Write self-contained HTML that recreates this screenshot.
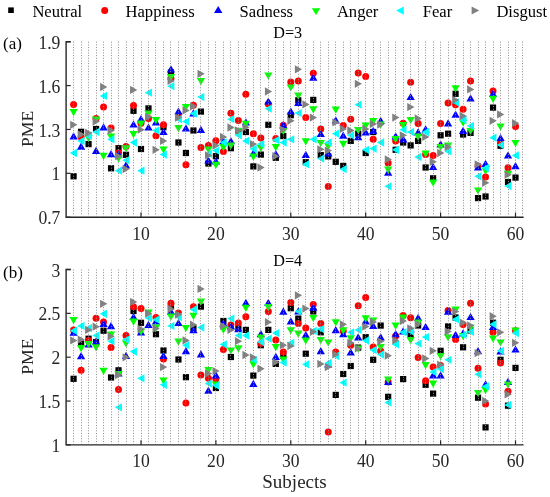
<!DOCTYPE html>
<html><head><meta charset="utf-8"><style>html,body{margin:0;padding:0;background:#fff;}svg{display:block;}</style></head>
<body><svg width="550" height="497" viewBox="0 0 550 497">
<rect width="550" height="497" fill="#fff"/>
<rect x="8.2" y="7.4" width="5.6" height="5.6" fill="#000"/>
<text x="32.4" y="16.7" font-size="16.6" font-family="Liberation Serif, Times New Roman, serif" fill="#000">Neutral</text>
<circle cx="104.7" cy="10.4" r="3.5" fill="#f00"/>
<text x="125.5" y="16.7" font-size="16.6" font-family="Liberation Serif, Times New Roman, serif" fill="#000">Happiness</text>
<polygon points="218.2,5.9 222.39999999999998,13.1 214.0,13.1" fill="#00f"/>
<text x="239.6" y="16.7" font-size="16.6" font-family="Liberation Serif, Times New Roman, serif" fill="#000">Sadness</text>
<polygon points="316,14.9 320.2,8.2 311.8,8.2" fill="#0f0"/>
<text x="336.9" y="16.7" font-size="16.6" font-family="Liberation Serif, Times New Roman, serif" fill="#000">Anger</text>
<polygon points="396.2,10.6 403.8,6.4 403.8,14.8" fill="#0ff"/>
<text x="422.7" y="16.7" font-size="16.6" font-family="Liberation Serif, Times New Roman, serif" fill="#000">Fear</text>
<polygon points="479.2,10.5 471.59999999999997,6.4 471.59999999999997,14.6" fill="#808080"/>
<text x="496.4" y="16.7" font-size="16.6" font-family="Liberation Serif, Times New Roman, serif" fill="#000">Disgust</text>
<rect x="70.49" y="173.20" width="6.20" height="6.20" fill="#000"/>
<rect x="77.98" y="128.70" width="6.20" height="6.20" fill="#000"/>
<rect x="85.47" y="141.00" width="6.20" height="6.20" fill="#000"/>
<rect x="92.96" y="125.90" width="6.20" height="6.20" fill="#000"/>
<rect x="107.94" y="165.20" width="6.20" height="6.20" fill="#000"/>
<rect x="115.43" y="145.10" width="6.20" height="6.20" fill="#000"/>
<rect x="122.92" y="151.70" width="6.20" height="6.20" fill="#000"/>
<rect x="130.41" y="107.70" width="6.20" height="6.20" fill="#000"/>
<rect x="137.90" y="145.90" width="6.20" height="6.20" fill="#000"/>
<rect x="145.39" y="105.30" width="6.20" height="6.20" fill="#000"/>
<rect x="160.37" y="124.10" width="6.20" height="6.20" fill="#000"/>
<rect x="167.86" y="69.40" width="6.20" height="6.20" fill="#000"/>
<rect x="175.35" y="139.40" width="6.20" height="6.20" fill="#000"/>
<rect x="182.84" y="149.90" width="6.20" height="6.20" fill="#000"/>
<rect x="190.33" y="127.40" width="6.20" height="6.20" fill="#000"/>
<rect x="197.82" y="108.50" width="6.20" height="6.20" fill="#000"/>
<rect x="205.31" y="160.40" width="6.20" height="6.20" fill="#000"/>
<rect x="212.80" y="153.10" width="6.20" height="6.20" fill="#000"/>
<rect x="227.78" y="145.10" width="6.20" height="6.20" fill="#000"/>
<rect x="235.27" y="127.90" width="6.20" height="6.20" fill="#000"/>
<rect x="242.76" y="128.90" width="6.20" height="6.20" fill="#000"/>
<rect x="250.25" y="163.30" width="6.20" height="6.20" fill="#000"/>
<rect x="257.74" y="151.50" width="6.20" height="6.20" fill="#000"/>
<rect x="265.23" y="121.70" width="6.20" height="6.20" fill="#000"/>
<rect x="272.72" y="154.70" width="6.20" height="6.20" fill="#000"/>
<rect x="280.21" y="133.00" width="6.20" height="6.20" fill="#000"/>
<rect x="287.70" y="112.10" width="6.20" height="6.20" fill="#000"/>
<rect x="295.19" y="97.20" width="6.20" height="6.20" fill="#000"/>
<rect x="302.68" y="159.10" width="6.20" height="6.20" fill="#000"/>
<rect x="310.17" y="96.80" width="6.20" height="6.20" fill="#000"/>
<rect x="317.66" y="152.00" width="6.20" height="6.20" fill="#000"/>
<rect x="325.15" y="153.30" width="6.20" height="6.20" fill="#000"/>
<rect x="332.64" y="158.70" width="6.20" height="6.20" fill="#000"/>
<rect x="340.13" y="162.80" width="6.20" height="6.20" fill="#000"/>
<rect x="347.62" y="137.80" width="6.20" height="6.20" fill="#000"/>
<rect x="355.11" y="130.60" width="6.20" height="6.20" fill="#000"/>
<rect x="362.60" y="149.90" width="6.20" height="6.20" fill="#000"/>
<rect x="370.09" y="128.90" width="6.20" height="6.20" fill="#000"/>
<rect x="392.56" y="146.70" width="6.20" height="6.20" fill="#000"/>
<rect x="400.05" y="139.40" width="6.20" height="6.20" fill="#000"/>
<rect x="407.54" y="142.30" width="6.20" height="6.20" fill="#000"/>
<rect x="415.03" y="137.80" width="6.20" height="6.20" fill="#000"/>
<rect x="422.52" y="164.40" width="6.20" height="6.20" fill="#000"/>
<rect x="430.01" y="175.20" width="6.20" height="6.20" fill="#000"/>
<rect x="437.50" y="132.20" width="6.20" height="6.20" fill="#000"/>
<rect x="444.99" y="130.60" width="6.20" height="6.20" fill="#000"/>
<rect x="452.48" y="90.70" width="6.20" height="6.20" fill="#000"/>
<rect x="459.97" y="131.40" width="6.20" height="6.20" fill="#000"/>
<rect x="467.46" y="129.80" width="6.20" height="6.20" fill="#000"/>
<rect x="474.95" y="195.00" width="6.20" height="6.20" fill="#000"/>
<rect x="482.44" y="193.40" width="6.20" height="6.20" fill="#000"/>
<rect x="489.93" y="104.50" width="6.20" height="6.20" fill="#000"/>
<rect x="497.42" y="142.70" width="6.20" height="6.20" fill="#000"/>
<rect x="504.91" y="178.90" width="6.20" height="6.20" fill="#000"/>
<rect x="512.40" y="174.50" width="6.20" height="6.20" fill="#000"/>
<circle cx="73.59" cy="104.40" r="3.5" fill="#f00"/>
<circle cx="81.08" cy="137.00" r="3.5" fill="#f00"/>
<circle cx="96.06" cy="118.40" r="3.5" fill="#f00"/>
<circle cx="103.55" cy="107.10" r="3.5" fill="#f00"/>
<circle cx="111.04" cy="128.00" r="3.5" fill="#f00"/>
<circle cx="118.53" cy="152.70" r="3.5" fill="#f00"/>
<circle cx="126.02" cy="146.50" r="3.5" fill="#f00"/>
<circle cx="133.51" cy="105.50" r="3.5" fill="#f00"/>
<circle cx="141.00" cy="123.20" r="3.5" fill="#f00"/>
<circle cx="148.49" cy="118.40" r="3.5" fill="#f00"/>
<circle cx="155.98" cy="135.80" r="3.5" fill="#f00"/>
<circle cx="163.47" cy="124.80" r="3.5" fill="#f00"/>
<circle cx="170.96" cy="78.60" r="3.5" fill="#f00"/>
<circle cx="178.45" cy="116.00" r="3.5" fill="#f00"/>
<circle cx="185.94" cy="164.70" r="3.5" fill="#f00"/>
<circle cx="193.43" cy="105.30" r="3.5" fill="#f00"/>
<circle cx="200.92" cy="147.40" r="3.5" fill="#f00"/>
<circle cx="208.41" cy="145.40" r="3.5" fill="#f00"/>
<circle cx="215.90" cy="140.80" r="3.5" fill="#f00"/>
<circle cx="223.39" cy="151.40" r="3.5" fill="#f00"/>
<circle cx="230.88" cy="113.30" r="3.5" fill="#f00"/>
<circle cx="238.37" cy="120.50" r="3.5" fill="#f00"/>
<circle cx="245.86" cy="94.30" r="3.5" fill="#f00"/>
<circle cx="253.35" cy="133.70" r="3.5" fill="#f00"/>
<circle cx="260.84" cy="138.00" r="3.5" fill="#f00"/>
<circle cx="268.33" cy="103.90" r="3.5" fill="#f00"/>
<circle cx="275.82" cy="138.50" r="3.5" fill="#f00"/>
<circle cx="283.31" cy="125.30" r="3.5" fill="#f00"/>
<circle cx="290.80" cy="81.90" r="3.5" fill="#f00"/>
<circle cx="298.29" cy="80.90" r="3.5" fill="#f00"/>
<circle cx="305.78" cy="117.60" r="3.5" fill="#f00"/>
<circle cx="313.27" cy="73.30" r="3.5" fill="#f00"/>
<circle cx="320.76" cy="128.90" r="3.5" fill="#f00"/>
<circle cx="328.25" cy="186.50" r="3.5" fill="#f00"/>
<circle cx="343.23" cy="125.60" r="3.5" fill="#f00"/>
<circle cx="350.72" cy="119.20" r="3.5" fill="#f00"/>
<circle cx="358.21" cy="72.90" r="3.5" fill="#f00"/>
<circle cx="365.70" cy="76.60" r="3.5" fill="#f00"/>
<circle cx="373.19" cy="139.30" r="3.5" fill="#f00"/>
<circle cx="388.17" cy="163.10" r="3.5" fill="#f00"/>
<circle cx="395.66" cy="140.90" r="3.5" fill="#f00"/>
<circle cx="403.15" cy="123.30" r="3.5" fill="#f00"/>
<circle cx="410.64" cy="82.20" r="3.5" fill="#f00"/>
<circle cx="418.13" cy="123.50" r="3.5" fill="#f00"/>
<circle cx="425.62" cy="154.60" r="3.5" fill="#f00"/>
<circle cx="433.11" cy="155.40" r="3.5" fill="#f00"/>
<circle cx="440.60" cy="123.40" r="3.5" fill="#f00"/>
<circle cx="448.09" cy="103.10" r="3.5" fill="#f00"/>
<circle cx="455.58" cy="104.70" r="3.5" fill="#f00"/>
<circle cx="463.07" cy="109.20" r="3.5" fill="#f00"/>
<circle cx="470.56" cy="80.90" r="3.5" fill="#f00"/>
<circle cx="478.05" cy="165.90" r="3.5" fill="#f00"/>
<circle cx="485.54" cy="177.10" r="3.5" fill="#f00"/>
<circle cx="493.03" cy="91.00" r="3.5" fill="#f00"/>
<circle cx="500.52" cy="142.50" r="3.5" fill="#f00"/>
<circle cx="508.01" cy="167.70" r="3.5" fill="#f00"/>
<circle cx="515.50" cy="126.40" r="3.5" fill="#f00"/>
<polygon points="73.59,132.30 77.74,139.52 69.44,139.52" fill="#0000ff"/>
<polygon points="81.08,142.50 85.23,149.72 76.93,149.72" fill="#0000ff"/>
<polygon points="96.06,146.80 100.21,154.02 91.91,154.02" fill="#0000ff"/>
<polygon points="103.55,123.20 107.70,130.42 99.40,130.42" fill="#0000ff"/>
<polygon points="111.04,150.00 115.19,157.22 106.89,157.22" fill="#0000ff"/>
<polygon points="118.53,150.20 122.68,157.42 114.38,157.42" fill="#0000ff"/>
<polygon points="126.02,161.30 130.17,168.52 121.87,168.52" fill="#0000ff"/>
<polygon points="133.51,120.40 137.66,127.62 129.36,127.62" fill="#0000ff"/>
<polygon points="141.00,115.10 145.15,122.32 136.85,122.32" fill="#0000ff"/>
<polygon points="148.49,123.40 152.64,130.62 144.34,130.62" fill="#0000ff"/>
<polygon points="155.98,118.20 160.13,125.42 151.83,125.42" fill="#0000ff"/>
<polygon points="163.47,127.80 167.62,135.02 159.32,135.02" fill="#0000ff"/>
<polygon points="170.96,65.20 175.11,72.42 166.81,72.42" fill="#0000ff"/>
<polygon points="178.45,107.40 182.60,114.62 174.30,114.62" fill="#0000ff"/>
<polygon points="185.94,124.20 190.09,131.42 181.79,131.42" fill="#0000ff"/>
<polygon points="193.43,109.20 197.58,116.42 189.28,116.42" fill="#0000ff"/>
<polygon points="200.92,125.70 205.07,132.92 196.77,132.92" fill="#0000ff"/>
<polygon points="208.41,156.40 212.56,163.62 204.26,163.62" fill="#0000ff"/>
<polygon points="215.90,157.20 220.05,164.42 211.75,164.42" fill="#0000ff"/>
<polygon points="223.39,137.10 227.54,144.32 219.24,144.32" fill="#0000ff"/>
<polygon points="230.88,137.10 235.03,144.32 226.73,144.32" fill="#0000ff"/>
<polygon points="245.86,118.30 250.01,125.52 241.71,125.52" fill="#0000ff"/>
<polygon points="253.35,149.20 257.50,156.42 249.20,156.42" fill="#0000ff"/>
<polygon points="268.33,97.40 272.48,104.62 264.18,104.62" fill="#0000ff"/>
<polygon points="275.82,150.00 279.97,157.22 271.67,157.22" fill="#0000ff"/>
<polygon points="283.31,121.00 287.46,128.22 279.16,128.22" fill="#0000ff"/>
<polygon points="290.80,107.40 294.95,114.62 286.65,114.62" fill="#0000ff"/>
<polygon points="298.29,98.70 302.44,105.92 294.14,105.92" fill="#0000ff"/>
<polygon points="305.78,150.80 309.93,158.02 301.63,158.02" fill="#0000ff"/>
<polygon points="313.27,73.60 317.42,80.82 309.12,80.82" fill="#0000ff"/>
<polygon points="320.76,129.90 324.91,137.12 316.61,137.12" fill="#0000ff"/>
<polygon points="328.25,149.20 332.40,156.42 324.10,156.42" fill="#0000ff"/>
<polygon points="335.74,116.20 339.89,123.42 331.59,123.42" fill="#0000ff"/>
<polygon points="343.23,131.50 347.38,138.72 339.08,138.72" fill="#0000ff"/>
<polygon points="358.21,133.10 362.36,140.32 354.06,140.32" fill="#0000ff"/>
<polygon points="365.70,128.20 369.85,135.42 361.55,135.42" fill="#0000ff"/>
<polygon points="373.19,126.80 377.34,134.02 369.04,134.02" fill="#0000ff"/>
<polygon points="380.68,116.70 384.83,123.92 376.53,123.92" fill="#0000ff"/>
<polygon points="388.17,168.50 392.32,175.72 384.02,175.72" fill="#0000ff"/>
<polygon points="395.66,132.30 399.81,139.52 391.51,139.52" fill="#0000ff"/>
<polygon points="403.15,135.20 407.30,142.42 399.00,142.42" fill="#0000ff"/>
<polygon points="410.64,92.90 414.79,100.12 406.49,100.12" fill="#0000ff"/>
<polygon points="418.13,128.20 422.28,135.42 413.98,135.42" fill="#0000ff"/>
<polygon points="425.62,125.20 429.77,132.42 421.47,132.42" fill="#0000ff"/>
<polygon points="433.11,162.90 437.26,170.12 428.96,170.12" fill="#0000ff"/>
<polygon points="440.60,140.30 444.75,147.52 436.45,147.52" fill="#0000ff"/>
<polygon points="448.09,119.20 452.24,126.42 443.94,126.42" fill="#0000ff"/>
<polygon points="455.58,110.60 459.73,117.82 451.43,117.82" fill="#0000ff"/>
<polygon points="463.07,126.70 467.22,133.92 458.92,133.92" fill="#0000ff"/>
<polygon points="470.56,94.20 474.71,101.42 466.41,101.42" fill="#0000ff"/>
<polygon points="478.05,163.20 482.20,170.42 473.90,170.42" fill="#0000ff"/>
<polygon points="485.54,159.70 489.69,166.92 481.39,166.92" fill="#0000ff"/>
<polygon points="493.03,89.70 497.18,96.92 488.88,96.92" fill="#0000ff"/>
<polygon points="500.52,133.90 504.67,141.12 496.37,141.12" fill="#0000ff"/>
<polygon points="508.01,151.40 512.16,158.62 503.86,158.62" fill="#0000ff"/>
<polygon points="515.50,162.10 519.65,169.32 511.35,169.32" fill="#0000ff"/>
<polygon points="73.59,116.30 77.74,109.08 69.44,109.08" fill="#00ff00"/>
<polygon points="88.57,142.30 92.72,135.08 84.42,135.08" fill="#00ff00"/>
<polygon points="96.06,123.80 100.21,116.58 91.91,116.58" fill="#00ff00"/>
<polygon points="103.55,160.00 107.70,152.78 99.40,152.78" fill="#00ff00"/>
<polygon points="111.04,140.70 115.19,133.48 106.89,133.48" fill="#00ff00"/>
<polygon points="118.53,162.40 122.68,155.18 114.38,155.18" fill="#00ff00"/>
<polygon points="126.02,152.40 130.17,145.18 121.87,145.18" fill="#00ff00"/>
<polygon points="133.51,138.30 137.66,131.08 129.36,131.08" fill="#00ff00"/>
<polygon points="141.00,127.80 145.15,120.58 136.85,120.58" fill="#00ff00"/>
<polygon points="148.49,117.80 152.64,110.58 144.34,110.58" fill="#00ff00"/>
<polygon points="155.98,124.30 160.13,117.08 151.83,117.08" fill="#00ff00"/>
<polygon points="163.47,153.60 167.62,146.38 159.32,146.38" fill="#00ff00"/>
<polygon points="170.96,81.10 175.11,73.88 166.81,73.88" fill="#00ff00"/>
<polygon points="178.45,132.20 182.60,124.98 174.30,124.98" fill="#00ff00"/>
<polygon points="185.94,111.10 190.09,103.88 181.79,103.88" fill="#00ff00"/>
<polygon points="200.92,85.20 205.07,77.98 196.77,77.98" fill="#00ff00"/>
<polygon points="208.41,153.60 212.56,146.38 204.26,146.38" fill="#00ff00"/>
<polygon points="215.90,168.90 220.05,161.68 211.75,161.68" fill="#00ff00"/>
<polygon points="223.39,151.20 227.54,143.98 219.24,143.98" fill="#00ff00"/>
<polygon points="230.88,149.60 235.03,142.38 226.73,142.38" fill="#00ff00"/>
<polygon points="238.37,135.10 242.52,127.88 234.22,127.88" fill="#00ff00"/>
<polygon points="245.86,128.00 250.01,120.78 241.71,120.78" fill="#00ff00"/>
<polygon points="253.35,160.80 257.50,153.58 249.20,153.58" fill="#00ff00"/>
<polygon points="260.84,152.00 264.99,144.78 256.69,144.78" fill="#00ff00"/>
<polygon points="268.33,79.60 272.48,72.38 264.18,72.38" fill="#00ff00"/>
<polygon points="275.82,151.20 279.97,143.98 271.67,143.98" fill="#00ff00"/>
<polygon points="283.31,135.10 287.46,127.88 279.16,127.88" fill="#00ff00"/>
<polygon points="290.80,91.60 294.95,84.38 286.65,84.38" fill="#00ff00"/>
<polygon points="298.29,99.70 302.44,92.48 294.14,92.48" fill="#00ff00"/>
<polygon points="305.78,145.50 309.93,138.28 301.63,138.28" fill="#00ff00"/>
<polygon points="313.27,113.40 317.42,106.18 309.12,106.18" fill="#00ff00"/>
<polygon points="320.76,147.10 324.91,139.88 316.61,139.88" fill="#00ff00"/>
<polygon points="328.25,150.40 332.40,143.18 324.10,143.18" fill="#00ff00"/>
<polygon points="335.74,113.70 339.89,106.48 331.59,106.48" fill="#00ff00"/>
<polygon points="343.23,147.90 347.38,140.68 339.08,140.68" fill="#00ff00"/>
<polygon points="358.21,134.30 362.36,127.08 354.06,127.08" fill="#00ff00"/>
<polygon points="365.70,129.80 369.85,122.58 361.55,122.58" fill="#00ff00"/>
<polygon points="373.19,125.20 377.34,117.98 369.04,117.98" fill="#00ff00"/>
<polygon points="380.68,128.80 384.83,121.58 376.53,121.58" fill="#00ff00"/>
<polygon points="388.17,173.70 392.32,166.48 384.02,166.48" fill="#00ff00"/>
<polygon points="395.66,143.10 399.81,135.88 391.51,135.88" fill="#00ff00"/>
<polygon points="403.15,129.30 407.30,122.08 399.00,122.08" fill="#00ff00"/>
<polygon points="410.64,124.10 414.79,116.88 406.49,116.88" fill="#00ff00"/>
<polygon points="418.13,140.70 422.28,133.48 413.98,133.48" fill="#00ff00"/>
<polygon points="425.62,157.80 429.77,150.58 421.47,150.58" fill="#00ff00"/>
<polygon points="433.11,186.60 437.26,179.38 428.96,179.38" fill="#00ff00"/>
<polygon points="440.60,151.20 444.75,143.98 436.45,143.98" fill="#00ff00"/>
<polygon points="448.09,149.60 452.24,142.38 443.94,142.38" fill="#00ff00"/>
<polygon points="455.58,92.40 459.73,85.18 451.43,85.18" fill="#00ff00"/>
<polygon points="463.07,126.60 467.22,119.38 458.92,119.38" fill="#00ff00"/>
<polygon points="470.56,135.10 474.71,127.88 466.41,127.88" fill="#00ff00"/>
<polygon points="478.05,194.60 482.20,187.38 473.90,187.38" fill="#00ff00"/>
<polygon points="485.54,174.80 489.69,167.58 481.39,167.58" fill="#00ff00"/>
<polygon points="493.03,102.90 497.18,95.68 488.88,95.68" fill="#00ff00"/>
<polygon points="500.52,130.80 504.67,123.58 496.37,123.58" fill="#00ff00"/>
<polygon points="508.01,178.00 512.16,170.78 503.86,170.78" fill="#00ff00"/>
<polygon points="515.50,147.10 519.65,139.88 511.35,139.88" fill="#00ff00"/>
<polygon points="69.79,153.00 77.01,148.85 77.01,157.15" fill="#00ffff"/>
<polygon points="77.28,141.00 84.50,136.85 84.50,145.15" fill="#00ffff"/>
<polygon points="84.77,136.00 91.99,131.85 91.99,140.15" fill="#00ffff"/>
<polygon points="92.26,132.00 99.48,127.85 99.48,136.15" fill="#00ffff"/>
<polygon points="99.75,95.90 106.97,91.75 106.97,100.05" fill="#00ffff"/>
<polygon points="107.24,139.30 114.46,135.15 114.46,143.45" fill="#00ffff"/>
<polygon points="114.73,170.70 121.95,166.55 121.95,174.85" fill="#00ffff"/>
<polygon points="122.22,160.20 129.44,156.05 129.44,164.35" fill="#00ffff"/>
<polygon points="129.71,142.50 136.93,138.35 136.93,146.65" fill="#00ffff"/>
<polygon points="137.20,170.70 144.42,166.55 144.42,174.85" fill="#00ffff"/>
<polygon points="144.69,92.70 151.91,88.55 151.91,96.85" fill="#00ffff"/>
<polygon points="152.18,130.50 159.40,126.35 159.40,134.65" fill="#00ffff"/>
<polygon points="159.67,154.60 166.89,150.45 166.89,158.75" fill="#00ffff"/>
<polygon points="167.16,86.20 174.38,82.05 174.38,90.35" fill="#00ffff"/>
<polygon points="174.65,119.20 181.87,115.05 181.87,123.35" fill="#00ffff"/>
<polygon points="182.14,121.60 189.36,117.45 189.36,125.75" fill="#00ffff"/>
<polygon points="189.63,113.60 196.85,109.45 196.85,117.75" fill="#00ffff"/>
<polygon points="197.12,97.00 204.34,92.85 204.34,101.15" fill="#00ffff"/>
<polygon points="204.61,153.80 211.83,149.65 211.83,157.95" fill="#00ffff"/>
<polygon points="212.10,150.60 219.32,146.45 219.32,154.75" fill="#00ffff"/>
<polygon points="219.59,142.50 226.81,138.35 226.81,146.65" fill="#00ffff"/>
<polygon points="227.08,119.20 234.30,115.05 234.30,123.35" fill="#00ffff"/>
<polygon points="234.57,135.30 241.79,131.15 241.79,139.45" fill="#00ffff"/>
<polygon points="242.06,140.90 249.28,136.75 249.28,145.05" fill="#00ffff"/>
<polygon points="249.55,149.00 256.77,144.85 256.77,153.15" fill="#00ffff"/>
<polygon points="257.04,144.10 264.26,139.95 264.26,148.25" fill="#00ffff"/>
<polygon points="264.53,108.70 271.75,104.55 271.75,112.85" fill="#00ffff"/>
<polygon points="272.02,140.10 279.24,135.95 279.24,144.25" fill="#00ffff"/>
<polygon points="279.51,142.50 286.73,138.35 286.73,146.65" fill="#00ffff"/>
<polygon points="287.00,139.30 294.22,135.15 294.22,143.45" fill="#00ffff"/>
<polygon points="294.49,113.10 301.71,108.95 301.71,117.25" fill="#00ffff"/>
<polygon points="301.98,164.30 309.20,160.15 309.20,168.45" fill="#00ffff"/>
<polygon points="309.47,139.30 316.69,135.15 316.69,143.45" fill="#00ffff"/>
<polygon points="316.96,158.60 324.18,154.45 324.18,162.75" fill="#00ffff"/>
<polygon points="324.45,142.50 331.67,138.35 331.67,146.65" fill="#00ffff"/>
<polygon points="331.94,133.70 339.16,129.55 339.16,137.85" fill="#00ffff"/>
<polygon points="339.43,169.10 346.65,164.95 346.65,173.25" fill="#00ffff"/>
<polygon points="346.92,135.30 354.14,131.15 354.14,139.45" fill="#00ffff"/>
<polygon points="354.41,104.70 361.63,100.55 361.63,108.85" fill="#00ffff"/>
<polygon points="361.90,149.80 369.12,145.65 369.12,153.95" fill="#00ffff"/>
<polygon points="369.39,148.60 376.61,144.45 376.61,152.75" fill="#00ffff"/>
<polygon points="376.88,142.50 384.10,138.35 384.10,146.65" fill="#00ffff"/>
<polygon points="384.37,186.30 391.59,182.15 391.59,190.45" fill="#00ffff"/>
<polygon points="391.86,149.80 399.08,145.65 399.08,153.95" fill="#00ffff"/>
<polygon points="399.35,129.70 406.57,125.55 406.57,133.85" fill="#00ffff"/>
<polygon points="406.84,132.00 414.06,127.85 414.06,136.15" fill="#00ffff"/>
<polygon points="414.33,157.00 421.55,152.85 421.55,161.15" fill="#00ffff"/>
<polygon points="421.82,132.00 429.04,127.85 429.04,136.15" fill="#00ffff"/>
<polygon points="444.29,151.40 451.51,147.25 451.51,155.55" fill="#00ffff"/>
<polygon points="451.78,102.30 459.00,98.15 459.00,106.45" fill="#00ffff"/>
<polygon points="459.27,120.00 466.49,115.85 466.49,124.15" fill="#00ffff"/>
<polygon points="466.76,126.00 473.98,121.85 473.98,130.15" fill="#00ffff"/>
<polygon points="474.25,176.30 481.47,172.15 481.47,180.45" fill="#00ffff"/>
<polygon points="481.74,168.00 488.96,163.85 488.96,172.15" fill="#00ffff"/>
<polygon points="489.23,137.70 496.45,133.55 496.45,141.85" fill="#00ffff"/>
<polygon points="496.72,145.00 503.94,140.85 503.94,149.15" fill="#00ffff"/>
<polygon points="504.21,186.00 511.43,181.85 511.43,190.15" fill="#00ffff"/>
<polygon points="511.70,155.40 518.92,151.25 518.92,159.55" fill="#00ffff"/>
<polygon points="77.39,124.80 70.17,120.65 70.17,128.95" fill="#808080"/>
<polygon points="84.88,134.30 77.66,130.15 77.66,138.45" fill="#808080"/>
<polygon points="92.37,132.90 85.15,128.75 85.15,137.05" fill="#808080"/>
<polygon points="99.86,121.60 92.64,117.45 92.64,125.75" fill="#808080"/>
<polygon points="107.35,87.00 100.13,82.85 100.13,91.15" fill="#808080"/>
<polygon points="114.84,130.50 107.62,126.35 107.62,134.65" fill="#808080"/>
<polygon points="122.33,156.20 115.11,152.05 115.11,160.35" fill="#808080"/>
<polygon points="129.82,169.00 122.60,164.85 122.60,173.15" fill="#808080"/>
<polygon points="137.31,89.90 130.09,85.75 130.09,94.05" fill="#808080"/>
<polygon points="144.80,129.70 137.58,125.55 137.58,133.85" fill="#808080"/>
<polygon points="152.29,116.80 145.07,112.65 145.07,120.95" fill="#808080"/>
<polygon points="159.78,149.80 152.56,145.65 152.56,153.95" fill="#808080"/>
<polygon points="167.27,140.90 160.05,136.75 160.05,145.05" fill="#808080"/>
<polygon points="174.76,80.90 167.54,76.75 167.54,85.05" fill="#808080"/>
<polygon points="182.25,117.60 175.03,113.45 175.03,121.75" fill="#808080"/>
<polygon points="189.74,110.40 182.52,106.25 182.52,114.55" fill="#808080"/>
<polygon points="197.23,106.30 190.01,102.15 190.01,110.45" fill="#808080"/>
<polygon points="204.72,73.80 197.50,69.65 197.50,77.95" fill="#808080"/>
<polygon points="212.21,155.40 204.99,151.25 204.99,159.55" fill="#808080"/>
<polygon points="219.70,145.50 212.48,141.35 212.48,149.65" fill="#808080"/>
<polygon points="227.19,136.90 219.97,132.75 219.97,141.05" fill="#808080"/>
<polygon points="234.68,127.50 227.46,123.35 227.46,131.65" fill="#808080"/>
<polygon points="242.17,130.50 234.95,126.35 234.95,134.65" fill="#808080"/>
<polygon points="249.66,127.30 242.44,123.15 242.44,131.45" fill="#808080"/>
<polygon points="257.15,144.10 249.93,139.95 249.93,148.25" fill="#808080"/>
<polygon points="264.64,167.50 257.42,163.35 257.42,171.65" fill="#808080"/>
<polygon points="272.13,91.50 264.91,87.35 264.91,95.65" fill="#808080"/>
<polygon points="279.62,156.20 272.40,152.05 272.40,160.35" fill="#808080"/>
<polygon points="287.11,129.70 279.89,125.55 279.89,133.85" fill="#808080"/>
<polygon points="294.60,120.80 287.38,116.65 287.38,124.95" fill="#808080"/>
<polygon points="302.09,69.30 294.87,65.15 294.87,73.45" fill="#808080"/>
<polygon points="309.58,104.40 302.36,100.25 302.36,108.55" fill="#808080"/>
<polygon points="317.07,117.60 309.85,113.45 309.85,121.75" fill="#808080"/>
<polygon points="324.56,149.30 317.34,145.15 317.34,153.45" fill="#808080"/>
<polygon points="332.05,150.60 324.83,146.45 324.83,154.75" fill="#808080"/>
<polygon points="339.54,122.40 332.32,118.25 332.32,126.55" fill="#808080"/>
<polygon points="347.03,128.90 339.81,124.75 339.81,133.05" fill="#808080"/>
<polygon points="354.52,130.50 347.30,126.35 347.30,134.65" fill="#808080"/>
<polygon points="362.01,83.80 354.79,79.65 354.79,87.95" fill="#808080"/>
<polygon points="369.50,128.90 362.28,124.75 362.28,133.05" fill="#808080"/>
<polygon points="376.99,124.00 369.77,119.85 369.77,128.15" fill="#808080"/>
<polygon points="384.48,124.60 377.26,120.45 377.26,128.75" fill="#808080"/>
<polygon points="391.97,159.40 384.75,155.25 384.75,163.55" fill="#808080"/>
<polygon points="399.46,117.60 392.24,113.45 392.24,121.75" fill="#808080"/>
<polygon points="406.95,135.30 399.73,131.15 399.73,139.45" fill="#808080"/>
<polygon points="414.44,107.10 407.22,102.95 407.22,111.25" fill="#808080"/>
<polygon points="421.93,118.40 414.71,114.25 414.71,122.55" fill="#808080"/>
<polygon points="429.42,136.90 422.20,132.75 422.20,141.05" fill="#808080"/>
<polygon points="436.91,161.80 429.69,157.65 429.69,165.95" fill="#808080"/>
<polygon points="444.40,153.00 437.18,148.85 437.18,157.15" fill="#808080"/>
<polygon points="451.89,147.00 444.67,142.85 444.67,151.15" fill="#808080"/>
<polygon points="459.38,99.90 452.16,95.75 452.16,104.05" fill="#808080"/>
<polygon points="466.87,116.00 459.65,111.85 459.65,120.15" fill="#808080"/>
<polygon points="474.36,89.40 467.14,85.25 467.14,93.55" fill="#808080"/>
<polygon points="481.85,164.30 474.63,160.15 474.63,168.45" fill="#808080"/>
<polygon points="489.34,182.80 482.12,178.65 482.12,186.95" fill="#808080"/>
<polygon points="496.83,120.80 489.61,116.65 489.61,124.95" fill="#808080"/>
<polygon points="504.32,114.40 497.10,110.25 497.10,118.55" fill="#808080"/>
<polygon points="511.81,174.70 504.59,170.55 504.59,178.85" fill="#808080"/>
<polygon points="519.30,123.20 512.08,119.05 512.08,127.35" fill="#808080"/>
<line x1="73.50" y1="41.70" x2="73.50" y2="216.20" stroke="#8e8e8e" stroke-width="1" stroke-dasharray="1 1.68"/>
<line x1="81.50" y1="41.70" x2="81.50" y2="216.20" stroke="#8e8e8e" stroke-width="1" stroke-dasharray="1 1.68"/>
<line x1="88.50" y1="41.70" x2="88.50" y2="216.20" stroke="#8e8e8e" stroke-width="1" stroke-dasharray="1 1.68"/>
<line x1="96.50" y1="41.70" x2="96.50" y2="216.20" stroke="#8e8e8e" stroke-width="1" stroke-dasharray="1 1.68"/>
<line x1="103.50" y1="41.70" x2="103.50" y2="216.20" stroke="#8e8e8e" stroke-width="1" stroke-dasharray="1 1.68"/>
<line x1="111.50" y1="41.70" x2="111.50" y2="216.20" stroke="#8e8e8e" stroke-width="1" stroke-dasharray="1 1.68"/>
<line x1="118.50" y1="41.70" x2="118.50" y2="216.20" stroke="#8e8e8e" stroke-width="1" stroke-dasharray="1 1.68"/>
<line x1="126.50" y1="41.70" x2="126.50" y2="216.20" stroke="#8e8e8e" stroke-width="1" stroke-dasharray="1 1.68"/>
<line x1="133.50" y1="41.70" x2="133.50" y2="216.20" stroke="#8e8e8e" stroke-width="1" stroke-dasharray="1 1.68"/>
<line x1="141.50" y1="41.70" x2="141.50" y2="216.20" stroke="#8e8e8e" stroke-width="1" stroke-dasharray="1 1.68"/>
<line x1="148.50" y1="41.70" x2="148.50" y2="216.20" stroke="#8e8e8e" stroke-width="1" stroke-dasharray="1 1.68"/>
<line x1="155.50" y1="41.70" x2="155.50" y2="216.20" stroke="#8e8e8e" stroke-width="1" stroke-dasharray="1 1.68"/>
<line x1="163.50" y1="41.70" x2="163.50" y2="216.20" stroke="#8e8e8e" stroke-width="1" stroke-dasharray="1 1.68"/>
<line x1="170.50" y1="41.70" x2="170.50" y2="216.20" stroke="#8e8e8e" stroke-width="1" stroke-dasharray="1 1.68"/>
<line x1="178.50" y1="41.70" x2="178.50" y2="216.20" stroke="#8e8e8e" stroke-width="1" stroke-dasharray="1 1.68"/>
<line x1="185.50" y1="41.70" x2="185.50" y2="216.20" stroke="#8e8e8e" stroke-width="1" stroke-dasharray="1 1.68"/>
<line x1="193.50" y1="41.70" x2="193.50" y2="216.20" stroke="#8e8e8e" stroke-width="1" stroke-dasharray="1 1.68"/>
<line x1="200.50" y1="41.70" x2="200.50" y2="216.20" stroke="#8e8e8e" stroke-width="1" stroke-dasharray="1 1.68"/>
<line x1="208.50" y1="41.70" x2="208.50" y2="216.20" stroke="#8e8e8e" stroke-width="1" stroke-dasharray="1 1.68"/>
<line x1="215.50" y1="41.70" x2="215.50" y2="216.20" stroke="#8e8e8e" stroke-width="1" stroke-dasharray="1 1.68"/>
<line x1="223.50" y1="41.70" x2="223.50" y2="216.20" stroke="#8e8e8e" stroke-width="1" stroke-dasharray="1 1.68"/>
<line x1="230.50" y1="41.70" x2="230.50" y2="216.20" stroke="#8e8e8e" stroke-width="1" stroke-dasharray="1 1.68"/>
<line x1="238.50" y1="41.70" x2="238.50" y2="216.20" stroke="#8e8e8e" stroke-width="1" stroke-dasharray="1 1.68"/>
<line x1="245.50" y1="41.70" x2="245.50" y2="216.20" stroke="#8e8e8e" stroke-width="1" stroke-dasharray="1 1.68"/>
<line x1="253.50" y1="41.70" x2="253.50" y2="216.20" stroke="#8e8e8e" stroke-width="1" stroke-dasharray="1 1.68"/>
<line x1="260.50" y1="41.70" x2="260.50" y2="216.20" stroke="#8e8e8e" stroke-width="1" stroke-dasharray="1 1.68"/>
<line x1="268.50" y1="41.70" x2="268.50" y2="216.20" stroke="#8e8e8e" stroke-width="1" stroke-dasharray="1 1.68"/>
<line x1="275.50" y1="41.70" x2="275.50" y2="216.20" stroke="#8e8e8e" stroke-width="1" stroke-dasharray="1 1.68"/>
<line x1="283.50" y1="41.70" x2="283.50" y2="216.20" stroke="#8e8e8e" stroke-width="1" stroke-dasharray="1 1.68"/>
<line x1="290.50" y1="41.70" x2="290.50" y2="216.20" stroke="#8e8e8e" stroke-width="1" stroke-dasharray="1 1.68"/>
<line x1="298.50" y1="41.70" x2="298.50" y2="216.20" stroke="#8e8e8e" stroke-width="1" stroke-dasharray="1 1.68"/>
<line x1="305.50" y1="41.70" x2="305.50" y2="216.20" stroke="#8e8e8e" stroke-width="1" stroke-dasharray="1 1.68"/>
<line x1="313.50" y1="41.70" x2="313.50" y2="216.20" stroke="#8e8e8e" stroke-width="1" stroke-dasharray="1 1.68"/>
<line x1="320.50" y1="41.70" x2="320.50" y2="216.20" stroke="#8e8e8e" stroke-width="1" stroke-dasharray="1 1.68"/>
<line x1="328.50" y1="41.70" x2="328.50" y2="216.20" stroke="#8e8e8e" stroke-width="1" stroke-dasharray="1 1.68"/>
<line x1="335.50" y1="41.70" x2="335.50" y2="216.20" stroke="#8e8e8e" stroke-width="1" stroke-dasharray="1 1.68"/>
<line x1="343.50" y1="41.70" x2="343.50" y2="216.20" stroke="#8e8e8e" stroke-width="1" stroke-dasharray="1 1.68"/>
<line x1="350.50" y1="41.70" x2="350.50" y2="216.20" stroke="#8e8e8e" stroke-width="1" stroke-dasharray="1 1.68"/>
<line x1="358.50" y1="41.70" x2="358.50" y2="216.20" stroke="#8e8e8e" stroke-width="1" stroke-dasharray="1 1.68"/>
<line x1="365.50" y1="41.70" x2="365.50" y2="216.20" stroke="#8e8e8e" stroke-width="1" stroke-dasharray="1 1.68"/>
<line x1="373.50" y1="41.70" x2="373.50" y2="216.20" stroke="#8e8e8e" stroke-width="1" stroke-dasharray="1 1.68"/>
<line x1="380.50" y1="41.70" x2="380.50" y2="216.20" stroke="#8e8e8e" stroke-width="1" stroke-dasharray="1 1.68"/>
<line x1="388.50" y1="41.70" x2="388.50" y2="216.20" stroke="#8e8e8e" stroke-width="1" stroke-dasharray="1 1.68"/>
<line x1="395.50" y1="41.70" x2="395.50" y2="216.20" stroke="#8e8e8e" stroke-width="1" stroke-dasharray="1 1.68"/>
<line x1="403.50" y1="41.70" x2="403.50" y2="216.20" stroke="#8e8e8e" stroke-width="1" stroke-dasharray="1 1.68"/>
<line x1="410.50" y1="41.70" x2="410.50" y2="216.20" stroke="#8e8e8e" stroke-width="1" stroke-dasharray="1 1.68"/>
<line x1="418.50" y1="41.70" x2="418.50" y2="216.20" stroke="#8e8e8e" stroke-width="1" stroke-dasharray="1 1.68"/>
<line x1="425.50" y1="41.70" x2="425.50" y2="216.20" stroke="#8e8e8e" stroke-width="1" stroke-dasharray="1 1.68"/>
<line x1="433.50" y1="41.70" x2="433.50" y2="216.20" stroke="#8e8e8e" stroke-width="1" stroke-dasharray="1 1.68"/>
<line x1="440.50" y1="41.70" x2="440.50" y2="216.20" stroke="#8e8e8e" stroke-width="1" stroke-dasharray="1 1.68"/>
<line x1="448.50" y1="41.70" x2="448.50" y2="216.20" stroke="#8e8e8e" stroke-width="1" stroke-dasharray="1 1.68"/>
<line x1="455.50" y1="41.70" x2="455.50" y2="216.20" stroke="#8e8e8e" stroke-width="1" stroke-dasharray="1 1.68"/>
<line x1="463.50" y1="41.70" x2="463.50" y2="216.20" stroke="#8e8e8e" stroke-width="1" stroke-dasharray="1 1.68"/>
<line x1="470.50" y1="41.70" x2="470.50" y2="216.20" stroke="#8e8e8e" stroke-width="1" stroke-dasharray="1 1.68"/>
<line x1="478.50" y1="41.70" x2="478.50" y2="216.20" stroke="#8e8e8e" stroke-width="1" stroke-dasharray="1 1.68"/>
<line x1="485.50" y1="41.70" x2="485.50" y2="216.20" stroke="#8e8e8e" stroke-width="1" stroke-dasharray="1 1.68"/>
<line x1="493.50" y1="41.70" x2="493.50" y2="216.20" stroke="#8e8e8e" stroke-width="1" stroke-dasharray="1 1.68"/>
<line x1="500.50" y1="41.70" x2="500.50" y2="216.20" stroke="#8e8e8e" stroke-width="1" stroke-dasharray="1 1.68"/>
<line x1="508.50" y1="41.70" x2="508.50" y2="216.20" stroke="#8e8e8e" stroke-width="1" stroke-dasharray="1 1.68"/>
<line x1="515.50" y1="41.70" x2="515.50" y2="216.20" stroke="#8e8e8e" stroke-width="1" stroke-dasharray="1 1.68"/>
<line x1="522.50" y1="41.70" x2="522.50" y2="216.20" stroke="#8e8e8e" stroke-width="1" stroke-dasharray="1 1.68"/>
<path d="M70.70,41.70 H66.10 V217.20 H523.59" fill="none" stroke="#262626" stroke-width="1.4"/>
<line x1="66.10" y1="217.20" x2="70.70" y2="217.20" stroke="#262626" stroke-width="1.2"/>
<text transform="translate(60.40,224.30) scale(1,1.08)" font-size="17.6" text-anchor="end" font-family="Liberation Serif, Times New Roman, serif" fill="#262626">0.7</text>
<line x1="66.10" y1="173.32" x2="70.70" y2="173.32" stroke="#262626" stroke-width="1.2"/>
<text transform="translate(60.40,180.42) scale(1,1.08)" font-size="17.6" text-anchor="end" font-family="Liberation Serif, Times New Roman, serif" fill="#262626">1</text>
<line x1="66.10" y1="129.45" x2="70.70" y2="129.45" stroke="#262626" stroke-width="1.2"/>
<text transform="translate(60.40,136.55) scale(1,1.08)" font-size="17.6" text-anchor="end" font-family="Liberation Serif, Times New Roman, serif" fill="#262626">1.3</text>
<line x1="66.10" y1="85.57" x2="70.70" y2="85.57" stroke="#262626" stroke-width="1.2"/>
<text transform="translate(60.40,92.67) scale(1,1.08)" font-size="17.6" text-anchor="end" font-family="Liberation Serif, Times New Roman, serif" fill="#262626">1.6</text>
<line x1="66.10" y1="41.70" x2="70.70" y2="41.70" stroke="#262626" stroke-width="1.2"/>
<text transform="translate(60.40,48.80) scale(1,1.08)" font-size="17.6" text-anchor="end" font-family="Liberation Serif, Times New Roman, serif" fill="#262626">1.9</text>
<line x1="141.00" y1="217.20" x2="141.00" y2="212.60" stroke="#262626" stroke-width="1.2"/>
<text transform="translate(141.00,239.70) scale(1,1.08)" font-size="17.6" text-anchor="middle" font-family="Liberation Serif, Times New Roman, serif" fill="#262626">10</text>
<line x1="215.90" y1="217.20" x2="215.90" y2="212.60" stroke="#262626" stroke-width="1.2"/>
<text transform="translate(215.90,239.70) scale(1,1.08)" font-size="17.6" text-anchor="middle" font-family="Liberation Serif, Times New Roman, serif" fill="#262626">20</text>
<line x1="290.80" y1="217.20" x2="290.80" y2="212.60" stroke="#262626" stroke-width="1.2"/>
<text transform="translate(290.80,239.70) scale(1,1.08)" font-size="17.6" text-anchor="middle" font-family="Liberation Serif, Times New Roman, serif" fill="#262626">30</text>
<line x1="365.70" y1="217.20" x2="365.70" y2="212.60" stroke="#262626" stroke-width="1.2"/>
<text transform="translate(365.70,239.70) scale(1,1.08)" font-size="17.6" text-anchor="middle" font-family="Liberation Serif, Times New Roman, serif" fill="#262626">40</text>
<line x1="440.60" y1="217.20" x2="440.60" y2="212.60" stroke="#262626" stroke-width="1.2"/>
<text transform="translate(440.60,239.70) scale(1,1.08)" font-size="17.6" text-anchor="middle" font-family="Liberation Serif, Times New Roman, serif" fill="#262626">50</text>
<line x1="515.50" y1="217.20" x2="515.50" y2="212.60" stroke="#262626" stroke-width="1.2"/>
<text transform="translate(515.50,239.70) scale(1,1.08)" font-size="17.6" text-anchor="middle" font-family="Liberation Serif, Times New Roman, serif" fill="#262626">60</text>
<text x="273.3" y="37.50" font-size="16.2" font-family="Liberation Serif, Times New Roman, serif" fill="#000">D=3</text>
<text x="3" y="48.50" font-size="17" font-family="Liberation Serif, Times New Roman, serif" fill="#000">(a)</text>
<text x="32.6" y="128.95" font-size="17.6" text-anchor="middle" transform="rotate(-90 32.6 128.95)" font-family="Liberation Serif, Times New Roman, serif" fill="#262626">PME</text>
<rect x="70.49" y="375.70" width="6.20" height="6.20" fill="#000"/>
<rect x="77.98" y="340.50" width="6.20" height="6.20" fill="#000"/>
<rect x="85.47" y="335.60" width="6.20" height="6.20" fill="#000"/>
<rect x="92.96" y="338.90" width="6.20" height="6.20" fill="#000"/>
<rect x="100.45" y="327.60" width="6.20" height="6.20" fill="#000"/>
<rect x="107.94" y="374.40" width="6.20" height="6.20" fill="#000"/>
<rect x="115.43" y="367.20" width="6.20" height="6.20" fill="#000"/>
<rect x="130.41" y="307.90" width="6.20" height="6.20" fill="#000"/>
<rect x="137.90" y="319.70" width="6.20" height="6.20" fill="#000"/>
<rect x="152.88" y="331.10" width="6.20" height="6.20" fill="#000"/>
<rect x="160.37" y="347.40" width="6.20" height="6.20" fill="#000"/>
<rect x="167.86" y="303.50" width="6.20" height="6.20" fill="#000"/>
<rect x="175.35" y="356.40" width="6.20" height="6.20" fill="#000"/>
<rect x="182.84" y="374.10" width="6.20" height="6.20" fill="#000"/>
<rect x="190.33" y="325.20" width="6.20" height="6.20" fill="#000"/>
<rect x="197.82" y="303.50" width="6.20" height="6.20" fill="#000"/>
<rect x="212.80" y="384.90" width="6.20" height="6.20" fill="#000"/>
<rect x="220.29" y="317.90" width="6.20" height="6.20" fill="#000"/>
<rect x="227.78" y="353.90" width="6.20" height="6.20" fill="#000"/>
<rect x="235.27" y="325.20" width="6.20" height="6.20" fill="#000"/>
<rect x="242.76" y="326.80" width="6.20" height="6.20" fill="#000"/>
<rect x="250.25" y="372.50" width="6.20" height="6.20" fill="#000"/>
<rect x="257.74" y="342.10" width="6.20" height="6.20" fill="#000"/>
<rect x="265.23" y="326.80" width="6.20" height="6.20" fill="#000"/>
<rect x="272.72" y="360.80" width="6.20" height="6.20" fill="#000"/>
<rect x="280.21" y="352.90" width="6.20" height="6.20" fill="#000"/>
<rect x="287.70" y="305.10" width="6.20" height="6.20" fill="#000"/>
<rect x="295.19" y="315.50" width="6.20" height="6.20" fill="#000"/>
<rect x="302.68" y="350.60" width="6.20" height="6.20" fill="#000"/>
<rect x="310.17" y="308.30" width="6.20" height="6.20" fill="#000"/>
<rect x="317.66" y="329.20" width="6.20" height="6.20" fill="#000"/>
<rect x="332.64" y="391.80" width="6.20" height="6.20" fill="#000"/>
<rect x="340.13" y="370.90" width="6.20" height="6.20" fill="#000"/>
<rect x="347.62" y="362.90" width="6.20" height="6.20" fill="#000"/>
<rect x="355.11" y="344.50" width="6.20" height="6.20" fill="#000"/>
<rect x="362.60" y="334.10" width="6.20" height="6.20" fill="#000"/>
<rect x="370.09" y="356.70" width="6.20" height="6.20" fill="#000"/>
<rect x="377.58" y="322.50" width="6.20" height="6.20" fill="#000"/>
<rect x="385.07" y="393.70" width="6.20" height="6.20" fill="#000"/>
<rect x="400.05" y="376.00" width="6.20" height="6.20" fill="#000"/>
<rect x="407.54" y="332.40" width="6.20" height="6.20" fill="#000"/>
<rect x="415.03" y="322.40" width="6.20" height="6.20" fill="#000"/>
<rect x="422.52" y="381.70" width="6.20" height="6.20" fill="#000"/>
<rect x="430.01" y="390.50" width="6.20" height="6.20" fill="#000"/>
<rect x="437.50" y="347.70" width="6.20" height="6.20" fill="#000"/>
<rect x="444.99" y="323.30" width="6.20" height="6.20" fill="#000"/>
<rect x="452.48" y="314.40" width="6.20" height="6.20" fill="#000"/>
<rect x="459.97" y="344.20" width="6.20" height="6.20" fill="#000"/>
<rect x="467.46" y="327.40" width="6.20" height="6.20" fill="#000"/>
<rect x="474.95" y="394.60" width="6.20" height="6.20" fill="#000"/>
<rect x="482.44" y="424.30" width="6.20" height="6.20" fill="#000"/>
<rect x="489.93" y="319.60" width="6.20" height="6.20" fill="#000"/>
<rect x="497.42" y="356.70" width="6.20" height="6.20" fill="#000"/>
<rect x="504.91" y="402.60" width="6.20" height="6.20" fill="#000"/>
<rect x="512.40" y="364.80" width="6.20" height="6.20" fill="#000"/>
<circle cx="73.59" cy="329.90" r="3.5" fill="#f00"/>
<circle cx="81.08" cy="370.30" r="3.5" fill="#f00"/>
<circle cx="88.57" cy="340.40" r="3.5" fill="#f00"/>
<circle cx="96.06" cy="318.30" r="3.5" fill="#f00"/>
<circle cx="103.55" cy="322.00" r="3.5" fill="#f00"/>
<circle cx="111.04" cy="347.60" r="3.5" fill="#f00"/>
<circle cx="118.53" cy="389.60" r="3.5" fill="#f00"/>
<circle cx="126.02" cy="335.50" r="3.5" fill="#f00"/>
<circle cx="133.51" cy="306.80" r="3.5" fill="#f00"/>
<circle cx="141.00" cy="308.50" r="3.5" fill="#f00"/>
<circle cx="155.98" cy="317.50" r="3.5" fill="#f00"/>
<circle cx="163.47" cy="358.90" r="3.5" fill="#f00"/>
<circle cx="170.96" cy="303.30" r="3.5" fill="#f00"/>
<circle cx="178.45" cy="313.00" r="3.5" fill="#f00"/>
<circle cx="185.94" cy="403.00" r="3.5" fill="#f00"/>
<circle cx="193.43" cy="306.80" r="3.5" fill="#f00"/>
<circle cx="200.92" cy="375.10" r="3.5" fill="#f00"/>
<circle cx="208.41" cy="378.30" r="3.5" fill="#f00"/>
<circle cx="215.90" cy="378.80" r="3.5" fill="#f00"/>
<circle cx="223.39" cy="349.50" r="3.5" fill="#f00"/>
<circle cx="230.88" cy="325.00" r="3.5" fill="#f00"/>
<circle cx="238.37" cy="322.90" r="3.5" fill="#f00"/>
<circle cx="245.86" cy="316.70" r="3.5" fill="#f00"/>
<circle cx="260.84" cy="343.60" r="3.5" fill="#f00"/>
<circle cx="268.33" cy="311.40" r="3.5" fill="#f00"/>
<circle cx="275.82" cy="339.90" r="3.5" fill="#f00"/>
<circle cx="283.31" cy="352.00" r="3.5" fill="#f00"/>
<circle cx="290.80" cy="302.50" r="3.5" fill="#f00"/>
<circle cx="298.29" cy="323.50" r="3.5" fill="#f00"/>
<circle cx="305.78" cy="328.00" r="3.5" fill="#f00"/>
<circle cx="313.27" cy="304.50" r="3.5" fill="#f00"/>
<circle cx="320.76" cy="323.50" r="3.5" fill="#f00"/>
<circle cx="328.25" cy="431.90" r="3.5" fill="#f00"/>
<circle cx="335.74" cy="352.10" r="3.5" fill="#f00"/>
<circle cx="343.23" cy="331.00" r="3.5" fill="#f00"/>
<circle cx="350.72" cy="345.20" r="3.5" fill="#f00"/>
<circle cx="358.21" cy="305.80" r="3.5" fill="#f00"/>
<circle cx="365.70" cy="297.40" r="3.5" fill="#f00"/>
<circle cx="373.19" cy="347.00" r="3.5" fill="#f00"/>
<circle cx="380.68" cy="351.00" r="3.5" fill="#f00"/>
<circle cx="388.17" cy="382.00" r="3.5" fill="#f00"/>
<circle cx="395.66" cy="336.00" r="3.5" fill="#f00"/>
<circle cx="403.15" cy="315.60" r="3.5" fill="#f00"/>
<circle cx="410.64" cy="317.80" r="3.5" fill="#f00"/>
<circle cx="418.13" cy="357.40" r="3.5" fill="#f00"/>
<circle cx="425.62" cy="380.80" r="3.5" fill="#f00"/>
<circle cx="433.11" cy="367.10" r="3.5" fill="#f00"/>
<circle cx="440.60" cy="365.50" r="3.5" fill="#f00"/>
<circle cx="448.09" cy="310.60" r="3.5" fill="#f00"/>
<circle cx="455.58" cy="339.60" r="3.5" fill="#f00"/>
<circle cx="463.07" cy="324.40" r="3.5" fill="#f00"/>
<circle cx="470.56" cy="303.30" r="3.5" fill="#f00"/>
<circle cx="478.05" cy="368.20" r="3.5" fill="#f00"/>
<circle cx="485.54" cy="404.10" r="3.5" fill="#f00"/>
<circle cx="493.03" cy="332.30" r="3.5" fill="#f00"/>
<circle cx="500.52" cy="363.00" r="3.5" fill="#f00"/>
<circle cx="508.01" cy="391.20" r="3.5" fill="#f00"/>
<circle cx="515.50" cy="330.70" r="3.5" fill="#f00"/>
<polygon points="73.59,328.50 77.74,335.72 69.44,335.72" fill="#0000ff"/>
<polygon points="81.08,352.00 85.23,359.22 76.93,359.22" fill="#0000ff"/>
<polygon points="88.57,340.20 92.72,347.42 84.42,347.42" fill="#0000ff"/>
<polygon points="96.06,337.40 100.21,344.62 91.91,344.62" fill="#0000ff"/>
<polygon points="103.55,319.70 107.70,326.92 99.40,326.92" fill="#0000ff"/>
<polygon points="111.04,322.10 115.19,329.32 106.89,329.32" fill="#0000ff"/>
<polygon points="118.53,369.20 122.68,376.42 114.38,376.42" fill="#0000ff"/>
<polygon points="126.02,351.80 130.17,359.02 121.87,359.02" fill="#0000ff"/>
<polygon points="133.51,312.90 137.66,320.12 129.36,320.12" fill="#0000ff"/>
<polygon points="141.00,328.20 145.15,335.42 136.85,335.42" fill="#0000ff"/>
<polygon points="148.49,320.70 152.64,327.92 144.34,327.92" fill="#0000ff"/>
<polygon points="155.98,317.20 160.13,324.42 151.83,324.42" fill="#0000ff"/>
<polygon points="163.47,351.80 167.62,359.02 159.32,359.02" fill="#0000ff"/>
<polygon points="170.96,307.60 175.11,314.82 166.81,314.82" fill="#0000ff"/>
<polygon points="178.45,318.90 182.60,326.12 174.30,326.12" fill="#0000ff"/>
<polygon points="185.94,347.00 190.09,354.22 181.79,354.22" fill="#0000ff"/>
<polygon points="193.43,326.00 197.58,333.22 189.28,333.22" fill="#0000ff"/>
<polygon points="200.92,350.20 205.07,357.42 196.77,357.42" fill="#0000ff"/>
<polygon points="208.41,386.60 212.56,393.82 204.26,393.82" fill="#0000ff"/>
<polygon points="215.90,371.30 220.05,378.52 211.75,378.52" fill="#0000ff"/>
<polygon points="223.39,319.20 227.54,326.42 219.24,326.42" fill="#0000ff"/>
<polygon points="230.88,322.20 235.03,329.42 226.73,329.42" fill="#0000ff"/>
<polygon points="238.37,325.00 242.52,332.22 234.22,332.22" fill="#0000ff"/>
<polygon points="245.86,298.70 250.01,305.92 241.71,305.92" fill="#0000ff"/>
<polygon points="253.35,379.80 257.50,387.02 249.20,387.02" fill="#0000ff"/>
<polygon points="260.84,330.10 264.99,337.32 256.69,337.32" fill="#0000ff"/>
<polygon points="268.33,298.70 272.48,305.92 264.18,305.92" fill="#0000ff"/>
<polygon points="275.82,352.70 279.97,359.92 271.67,359.92" fill="#0000ff"/>
<polygon points="283.31,307.60 287.46,314.82 279.16,314.82" fill="#0000ff"/>
<polygon points="290.80,317.20 294.95,324.42 286.65,324.42" fill="#0000ff"/>
<polygon points="298.29,307.20 302.44,314.42 294.14,314.42" fill="#0000ff"/>
<polygon points="305.78,330.90 309.93,338.12 301.63,338.12" fill="#0000ff"/>
<polygon points="313.27,303.60 317.42,310.82 309.12,310.82" fill="#0000ff"/>
<polygon points="320.76,347.00 324.91,354.22 316.61,354.22" fill="#0000ff"/>
<polygon points="328.25,360.20 332.40,367.42 324.10,367.42" fill="#0000ff"/>
<polygon points="335.74,326.10 339.89,333.32 331.59,333.32" fill="#0000ff"/>
<polygon points="343.23,330.10 347.38,337.32 339.08,337.32" fill="#0000ff"/>
<polygon points="350.72,348.30 354.87,355.52 346.57,355.52" fill="#0000ff"/>
<polygon points="358.21,333.30 362.36,340.52 354.06,340.52" fill="#0000ff"/>
<polygon points="365.70,317.20 369.85,324.42 361.55,324.42" fill="#0000ff"/>
<polygon points="373.19,321.80 377.34,329.02 369.04,329.02" fill="#0000ff"/>
<polygon points="380.68,333.20 384.83,340.42 376.53,340.42" fill="#0000ff"/>
<polygon points="388.17,377.80 392.32,385.02 384.02,385.02" fill="#0000ff"/>
<polygon points="395.66,330.10 399.81,337.32 391.51,337.32" fill="#0000ff"/>
<polygon points="403.15,327.20 407.30,334.42 399.00,334.42" fill="#0000ff"/>
<polygon points="410.64,325.30 414.79,332.52 406.49,332.52" fill="#0000ff"/>
<polygon points="418.13,313.80 422.28,321.02 413.98,321.02" fill="#0000ff"/>
<polygon points="425.62,322.90 429.77,330.12 421.47,330.12" fill="#0000ff"/>
<polygon points="433.11,371.30 437.26,378.52 428.96,378.52" fill="#0000ff"/>
<polygon points="440.60,371.30 444.75,378.52 436.45,378.52" fill="#0000ff"/>
<polygon points="448.09,307.60 452.24,314.82 443.94,314.82" fill="#0000ff"/>
<polygon points="455.58,330.80 459.73,338.02 451.43,338.02" fill="#0000ff"/>
<polygon points="463.07,329.20 467.22,336.42 458.92,336.42" fill="#0000ff"/>
<polygon points="470.56,312.90 474.71,320.12 466.41,320.12" fill="#0000ff"/>
<polygon points="478.05,347.00 482.20,354.22 473.90,354.22" fill="#0000ff"/>
<polygon points="485.54,380.20 489.69,387.42 481.39,387.42" fill="#0000ff"/>
<polygon points="493.03,322.90 497.18,330.12 488.88,330.12" fill="#0000ff"/>
<polygon points="500.52,347.20 504.67,354.42 496.37,354.42" fill="#0000ff"/>
<polygon points="508.01,377.80 512.16,385.02 503.86,385.02" fill="#0000ff"/>
<polygon points="515.50,345.40 519.65,352.62 511.35,352.62" fill="#0000ff"/>
<polygon points="73.59,324.20 77.74,316.98 69.44,316.98" fill="#00ff00"/>
<polygon points="81.08,352.20 85.23,344.98 76.93,344.98" fill="#00ff00"/>
<polygon points="88.57,348.20 92.72,340.98 84.42,340.98" fill="#00ff00"/>
<polygon points="96.06,351.40 100.21,344.18 91.91,344.18" fill="#00ff00"/>
<polygon points="103.55,374.90 107.70,367.68 99.40,367.68" fill="#00ff00"/>
<polygon points="111.04,338.80 115.19,331.58 106.89,331.58" fill="#00ff00"/>
<polygon points="118.53,378.10 122.68,370.88 114.38,370.88" fill="#00ff00"/>
<polygon points="126.02,347.40 130.17,340.18 121.87,340.18" fill="#00ff00"/>
<polygon points="133.51,325.80 137.66,318.58 129.36,318.58" fill="#00ff00"/>
<polygon points="141.00,335.60 145.15,328.38 136.85,328.38" fill="#00ff00"/>
<polygon points="148.49,316.80 152.64,309.58 144.34,309.58" fill="#00ff00"/>
<polygon points="155.98,331.80 160.13,324.58 151.83,324.58" fill="#00ff00"/>
<polygon points="163.47,384.60 167.62,377.38 159.32,377.38" fill="#00ff00"/>
<polygon points="170.96,320.80 175.11,313.58 166.81,313.58" fill="#00ff00"/>
<polygon points="178.45,345.80 182.60,338.58 174.30,338.58" fill="#00ff00"/>
<polygon points="185.94,332.10 190.09,324.88 181.79,324.88" fill="#00ff00"/>
<polygon points="193.43,320.00 197.58,312.78 189.28,312.78" fill="#00ff00"/>
<polygon points="200.92,305.80 205.07,298.58 196.77,298.58" fill="#00ff00"/>
<polygon points="208.41,374.10 212.56,366.88 204.26,366.88" fill="#00ff00"/>
<polygon points="215.90,388.80 220.05,381.58 211.75,381.58" fill="#00ff00"/>
<polygon points="223.39,333.70 227.54,326.48 219.24,326.48" fill="#00ff00"/>
<polygon points="230.88,354.60 235.03,347.38 226.73,347.38" fill="#00ff00"/>
<polygon points="238.37,352.40 242.52,345.18 234.22,345.18" fill="#00ff00"/>
<polygon points="245.86,312.00 250.01,304.78 241.71,304.78" fill="#00ff00"/>
<polygon points="253.35,368.50 257.50,361.28 249.20,361.28" fill="#00ff00"/>
<polygon points="260.84,341.70 264.99,334.48 256.69,334.48" fill="#00ff00"/>
<polygon points="268.33,311.20 272.48,303.98 264.18,303.98" fill="#00ff00"/>
<polygon points="275.82,351.30 279.97,344.08 271.67,344.08" fill="#00ff00"/>
<polygon points="283.31,363.60 287.46,356.38 279.16,356.38" fill="#00ff00"/>
<polygon points="290.80,334.50 294.95,327.28 286.65,327.28" fill="#00ff00"/>
<polygon points="298.29,337.70 302.44,330.48 294.14,330.48" fill="#00ff00"/>
<polygon points="305.78,344.60 309.93,337.38 301.63,337.38" fill="#00ff00"/>
<polygon points="313.27,322.10 317.42,314.88 309.12,314.88" fill="#00ff00"/>
<polygon points="320.76,344.20 324.91,336.98 316.61,336.98" fill="#00ff00"/>
<polygon points="328.25,346.60 332.40,339.38 324.10,339.38" fill="#00ff00"/>
<polygon points="335.74,326.50 339.89,319.28 331.59,319.28" fill="#00ff00"/>
<polygon points="343.23,334.50 347.38,327.28 339.08,327.28" fill="#00ff00"/>
<polygon points="350.72,342.50 354.87,335.28 346.57,335.28" fill="#00ff00"/>
<polygon points="358.21,352.80 362.36,345.58 354.06,345.58" fill="#00ff00"/>
<polygon points="365.70,322.40 369.85,315.18 361.55,315.18" fill="#00ff00"/>
<polygon points="373.19,324.80 377.34,317.58 369.04,317.58" fill="#00ff00"/>
<polygon points="380.68,351.10 384.83,343.88 376.53,343.88" fill="#00ff00"/>
<polygon points="388.17,383.80 392.32,376.58 384.02,376.58" fill="#00ff00"/>
<polygon points="395.66,329.70 399.81,322.48 391.51,322.48" fill="#00ff00"/>
<polygon points="403.15,321.80 407.30,314.58 399.00,314.58" fill="#00ff00"/>
<polygon points="410.64,344.20 414.79,336.98 406.49,336.98" fill="#00ff00"/>
<polygon points="418.13,326.80 422.28,319.58 413.98,319.58" fill="#00ff00"/>
<polygon points="425.62,369.30 429.77,362.08 421.47,362.08" fill="#00ff00"/>
<polygon points="433.11,387.80 437.26,380.58 428.96,380.58" fill="#00ff00"/>
<polygon points="440.60,360.30 444.75,353.08 436.45,353.08" fill="#00ff00"/>
<polygon points="448.09,341.40 452.24,334.18 443.94,334.18" fill="#00ff00"/>
<polygon points="455.58,313.80 459.73,306.58 451.43,306.58" fill="#00ff00"/>
<polygon points="463.07,340.10 467.22,332.88 458.92,332.88" fill="#00ff00"/>
<polygon points="470.56,331.80 474.71,324.58 466.41,324.58" fill="#00ff00"/>
<polygon points="478.05,397.10 482.20,389.88 473.90,389.88" fill="#00ff00"/>
<polygon points="485.54,394.20 489.69,386.98 481.39,386.98" fill="#00ff00"/>
<polygon points="493.03,342.60 497.18,335.38 488.88,335.38" fill="#00ff00"/>
<polygon points="500.52,346.60 504.67,339.38 496.37,339.38" fill="#00ff00"/>
<polygon points="508.01,388.60 512.16,381.38 503.86,381.38" fill="#00ff00"/>
<polygon points="515.50,334.80 519.65,327.58 511.35,327.58" fill="#00ff00"/>
<polygon points="69.79,330.70 77.01,326.55 77.01,334.85" fill="#00ffff"/>
<polygon points="77.28,325.90 84.50,321.75 84.50,330.05" fill="#00ffff"/>
<polygon points="84.77,328.00 91.99,323.85 91.99,332.15" fill="#00ffff"/>
<polygon points="92.26,335.50 99.48,331.35 99.48,339.65" fill="#00ffff"/>
<polygon points="99.75,313.80 106.97,309.65 106.97,317.95" fill="#00ffff"/>
<polygon points="107.24,341.20 114.46,337.05 114.46,345.35" fill="#00ffff"/>
<polygon points="114.73,407.30 121.95,403.15 121.95,411.45" fill="#00ffff"/>
<polygon points="122.22,339.60 129.44,335.45 129.44,343.75" fill="#00ffff"/>
<polygon points="129.71,351.60 136.93,347.45 136.93,355.75" fill="#00ffff"/>
<polygon points="137.20,378.30 144.42,374.15 144.42,382.45" fill="#00ffff"/>
<polygon points="144.69,318.00 151.91,313.85 151.91,322.15" fill="#00ffff"/>
<polygon points="152.18,319.60 159.40,315.45 159.40,323.75" fill="#00ffff"/>
<polygon points="159.67,384.80 166.89,380.65 166.89,388.95" fill="#00ffff"/>
<polygon points="167.16,325.90 174.38,321.75 174.38,330.05" fill="#00ffff"/>
<polygon points="174.65,317.00 181.87,312.85 181.87,321.15" fill="#00ffff"/>
<polygon points="182.14,345.20 189.36,341.05 189.36,349.35" fill="#00ffff"/>
<polygon points="189.63,309.50 196.85,305.35 196.85,313.65" fill="#00ffff"/>
<polygon points="197.12,327.50 204.34,323.35 204.34,331.65" fill="#00ffff"/>
<polygon points="204.61,383.60 211.83,379.45 211.83,387.75" fill="#00ffff"/>
<polygon points="212.10,385.60 219.32,381.45 219.32,389.75" fill="#00ffff"/>
<polygon points="219.59,344.40 226.81,340.25 226.81,348.55" fill="#00ffff"/>
<polygon points="227.08,318.60 234.30,314.45 234.30,322.75" fill="#00ffff"/>
<polygon points="234.57,335.40 241.79,331.25 241.79,339.55" fill="#00ffff"/>
<polygon points="242.06,335.50 249.28,331.35 249.28,339.65" fill="#00ffff"/>
<polygon points="249.55,359.80 256.77,355.65 256.77,363.95" fill="#00ffff"/>
<polygon points="257.04,342.00 264.26,337.85 264.26,346.15" fill="#00ffff"/>
<polygon points="264.53,338.70 271.75,334.55 271.75,342.85" fill="#00ffff"/>
<polygon points="272.02,333.10 279.24,328.95 279.24,337.25" fill="#00ffff"/>
<polygon points="279.51,362.60 286.73,358.45 286.73,366.75" fill="#00ffff"/>
<polygon points="287.00,342.80 294.22,338.65 294.22,346.95" fill="#00ffff"/>
<polygon points="294.49,311.40 301.71,307.25 301.71,315.55" fill="#00ffff"/>
<polygon points="301.98,364.30 309.20,360.15 309.20,368.45" fill="#00ffff"/>
<polygon points="309.47,331.00 316.69,326.85 316.69,335.15" fill="#00ffff"/>
<polygon points="316.96,329.10 324.18,324.95 324.18,333.25" fill="#00ffff"/>
<polygon points="324.45,363.00 331.67,358.85 331.67,367.15" fill="#00ffff"/>
<polygon points="331.94,355.80 339.16,351.65 339.16,359.95" fill="#00ffff"/>
<polygon points="339.43,382.70 346.65,378.55 346.65,386.85" fill="#00ffff"/>
<polygon points="346.92,332.30 354.14,328.15 354.14,336.45" fill="#00ffff"/>
<polygon points="354.41,329.90 361.63,325.75 361.63,334.05" fill="#00ffff"/>
<polygon points="361.90,340.50 369.12,336.35 369.12,344.65" fill="#00ffff"/>
<polygon points="369.39,350.10 376.61,345.95 376.61,354.25" fill="#00ffff"/>
<polygon points="376.88,354.50 384.10,350.35 384.10,358.65" fill="#00ffff"/>
<polygon points="384.37,402.50 391.59,398.35 391.59,406.65" fill="#00ffff"/>
<polygon points="391.86,344.40 399.08,340.25 399.08,348.55" fill="#00ffff"/>
<polygon points="399.35,332.30 406.57,328.15 406.57,336.45" fill="#00ffff"/>
<polygon points="406.84,331.50 414.06,327.35 414.06,335.65" fill="#00ffff"/>
<polygon points="414.33,343.60 421.55,339.45 421.55,347.75" fill="#00ffff"/>
<polygon points="421.82,337.10 429.04,332.95 429.04,341.25" fill="#00ffff"/>
<polygon points="429.31,371.90 436.53,367.75 436.53,376.05" fill="#00ffff"/>
<polygon points="436.80,369.00 444.02,364.85 444.02,373.15" fill="#00ffff"/>
<polygon points="444.29,359.80 451.51,355.65 451.51,363.95" fill="#00ffff"/>
<polygon points="451.78,319.30 459.00,315.15 459.00,323.45" fill="#00ffff"/>
<polygon points="459.27,334.90 466.49,330.75 466.49,339.05" fill="#00ffff"/>
<polygon points="466.76,331.80 473.98,327.65 473.98,335.95" fill="#00ffff"/>
<polygon points="474.25,374.30 481.47,370.15 481.47,378.45" fill="#00ffff"/>
<polygon points="481.74,386.40 488.96,382.25 488.96,390.55" fill="#00ffff"/>
<polygon points="489.23,324.30 496.45,320.15 496.45,328.45" fill="#00ffff"/>
<polygon points="496.72,350.80 503.94,346.65 503.94,354.95" fill="#00ffff"/>
<polygon points="504.21,404.90 511.43,400.75 511.43,409.05" fill="#00ffff"/>
<polygon points="511.70,333.10 518.92,328.95 518.92,337.25" fill="#00ffff"/>
<polygon points="77.39,340.40 70.17,336.25 70.17,344.55" fill="#808080"/>
<polygon points="84.88,339.60 77.66,335.45 77.66,343.75" fill="#808080"/>
<polygon points="92.37,329.90 85.15,325.75 85.15,334.05" fill="#808080"/>
<polygon points="99.86,326.70 92.64,322.55 92.64,330.85" fill="#808080"/>
<polygon points="107.35,303.80 100.13,299.65 100.13,307.95" fill="#808080"/>
<polygon points="114.84,336.30 107.62,332.15 107.62,340.45" fill="#808080"/>
<polygon points="122.33,375.10 115.11,370.95 115.11,379.25" fill="#808080"/>
<polygon points="129.82,357.30 122.60,353.15 122.60,361.45" fill="#808080"/>
<polygon points="137.31,301.90 130.09,297.75 130.09,306.05" fill="#808080"/>
<polygon points="144.80,329.00 137.58,324.85 137.58,333.15" fill="#808080"/>
<polygon points="152.29,313.50 145.07,309.35 145.07,317.65" fill="#808080"/>
<polygon points="159.78,328.50 152.56,324.35 152.56,332.65" fill="#808080"/>
<polygon points="167.27,367.10 160.05,362.95 160.05,371.25" fill="#808080"/>
<polygon points="174.76,309.00 167.54,304.85 167.54,313.15" fill="#808080"/>
<polygon points="182.25,314.60 175.03,310.45 175.03,318.75" fill="#808080"/>
<polygon points="189.74,340.40 182.52,336.25 182.52,344.55" fill="#808080"/>
<polygon points="197.23,324.70 190.01,320.55 190.01,328.85" fill="#808080"/>
<polygon points="204.72,288.90 197.50,284.75 197.50,293.05" fill="#808080"/>
<polygon points="212.21,373.50 204.99,369.35 204.99,377.65" fill="#808080"/>
<polygon points="219.70,371.10 212.48,366.95 212.48,375.25" fill="#808080"/>
<polygon points="227.19,325.90 219.97,321.75 219.97,330.05" fill="#808080"/>
<polygon points="234.68,329.90 227.46,325.75 227.46,334.05" fill="#808080"/>
<polygon points="242.17,341.20 234.95,337.05 234.95,345.35" fill="#808080"/>
<polygon points="249.66,355.00 242.44,350.85 242.44,359.15" fill="#808080"/>
<polygon points="257.15,357.40 249.93,353.25 249.93,361.55" fill="#808080"/>
<polygon points="264.64,368.70 257.42,364.55 257.42,372.85" fill="#808080"/>
<polygon points="272.13,322.20 264.91,318.05 264.91,326.35" fill="#808080"/>
<polygon points="279.62,362.20 272.40,358.05 272.40,366.35" fill="#808080"/>
<polygon points="287.11,345.20 279.89,341.05 279.89,349.35" fill="#808080"/>
<polygon points="294.60,346.00 287.38,341.85 287.38,350.15" fill="#808080"/>
<polygon points="302.09,295.30 294.87,291.15 294.87,299.45" fill="#808080"/>
<polygon points="309.58,308.60 302.36,304.45 302.36,312.75" fill="#808080"/>
<polygon points="317.07,331.80 309.85,327.65 309.85,335.95" fill="#808080"/>
<polygon points="324.56,363.90 317.34,359.75 317.34,368.05" fill="#808080"/>
<polygon points="332.05,367.10 324.83,362.95 324.83,371.25" fill="#808080"/>
<polygon points="339.54,354.40 332.32,350.25 332.32,358.55" fill="#808080"/>
<polygon points="347.03,324.30 339.81,320.15 339.81,328.45" fill="#808080"/>
<polygon points="354.52,342.80 347.30,338.65 347.30,346.95" fill="#808080"/>
<polygon points="362.01,348.40 354.79,344.25 354.79,352.55" fill="#808080"/>
<polygon points="369.50,326.60 362.28,322.45 362.28,330.75" fill="#808080"/>
<polygon points="376.99,322.00 369.77,317.85 369.77,326.15" fill="#808080"/>
<polygon points="384.48,341.30 377.26,337.15 377.26,345.45" fill="#808080"/>
<polygon points="391.97,355.70 384.75,351.55 384.75,359.85" fill="#808080"/>
<polygon points="399.46,340.40 392.24,336.25 392.24,344.55" fill="#808080"/>
<polygon points="406.95,321.00 399.73,316.85 399.73,325.15" fill="#808080"/>
<polygon points="414.44,328.30 407.22,324.15 407.22,332.45" fill="#808080"/>
<polygon points="421.93,324.30 414.71,320.15 414.71,328.45" fill="#808080"/>
<polygon points="429.42,358.50 422.20,354.35 422.20,362.65" fill="#808080"/>
<polygon points="436.91,350.80 429.69,346.65 429.69,354.95" fill="#808080"/>
<polygon points="444.40,364.70 437.18,360.55 437.18,368.85" fill="#808080"/>
<polygon points="451.89,331.50 444.67,327.35 444.67,335.65" fill="#808080"/>
<polygon points="459.38,311.60 452.16,307.45 452.16,315.75" fill="#808080"/>
<polygon points="466.87,322.70 459.65,318.55 459.65,326.85" fill="#808080"/>
<polygon points="474.36,325.50 467.14,321.35 467.14,329.65" fill="#808080"/>
<polygon points="481.85,353.20 474.63,349.05 474.63,357.35" fill="#808080"/>
<polygon points="489.34,400.90 482.12,396.75 482.12,405.05" fill="#808080"/>
<polygon points="496.83,316.20 489.61,312.05 489.61,320.35" fill="#808080"/>
<polygon points="504.32,332.30 497.10,328.15 497.10,336.45" fill="#808080"/>
<polygon points="511.81,394.40 504.59,390.25 504.59,398.55" fill="#808080"/>
<polygon points="519.30,342.80 512.08,338.65 512.08,346.95" fill="#808080"/>
<line x1="73.50" y1="269.50" x2="73.50" y2="443.90" stroke="#8e8e8e" stroke-width="1" stroke-dasharray="1 1.68"/>
<line x1="81.50" y1="269.50" x2="81.50" y2="443.90" stroke="#8e8e8e" stroke-width="1" stroke-dasharray="1 1.68"/>
<line x1="88.50" y1="269.50" x2="88.50" y2="443.90" stroke="#8e8e8e" stroke-width="1" stroke-dasharray="1 1.68"/>
<line x1="96.50" y1="269.50" x2="96.50" y2="443.90" stroke="#8e8e8e" stroke-width="1" stroke-dasharray="1 1.68"/>
<line x1="103.50" y1="269.50" x2="103.50" y2="443.90" stroke="#8e8e8e" stroke-width="1" stroke-dasharray="1 1.68"/>
<line x1="111.50" y1="269.50" x2="111.50" y2="443.90" stroke="#8e8e8e" stroke-width="1" stroke-dasharray="1 1.68"/>
<line x1="118.50" y1="269.50" x2="118.50" y2="443.90" stroke="#8e8e8e" stroke-width="1" stroke-dasharray="1 1.68"/>
<line x1="126.50" y1="269.50" x2="126.50" y2="443.90" stroke="#8e8e8e" stroke-width="1" stroke-dasharray="1 1.68"/>
<line x1="133.50" y1="269.50" x2="133.50" y2="443.90" stroke="#8e8e8e" stroke-width="1" stroke-dasharray="1 1.68"/>
<line x1="141.50" y1="269.50" x2="141.50" y2="443.90" stroke="#8e8e8e" stroke-width="1" stroke-dasharray="1 1.68"/>
<line x1="148.50" y1="269.50" x2="148.50" y2="443.90" stroke="#8e8e8e" stroke-width="1" stroke-dasharray="1 1.68"/>
<line x1="155.50" y1="269.50" x2="155.50" y2="443.90" stroke="#8e8e8e" stroke-width="1" stroke-dasharray="1 1.68"/>
<line x1="163.50" y1="269.50" x2="163.50" y2="443.90" stroke="#8e8e8e" stroke-width="1" stroke-dasharray="1 1.68"/>
<line x1="170.50" y1="269.50" x2="170.50" y2="443.90" stroke="#8e8e8e" stroke-width="1" stroke-dasharray="1 1.68"/>
<line x1="178.50" y1="269.50" x2="178.50" y2="443.90" stroke="#8e8e8e" stroke-width="1" stroke-dasharray="1 1.68"/>
<line x1="185.50" y1="269.50" x2="185.50" y2="443.90" stroke="#8e8e8e" stroke-width="1" stroke-dasharray="1 1.68"/>
<line x1="193.50" y1="269.50" x2="193.50" y2="443.90" stroke="#8e8e8e" stroke-width="1" stroke-dasharray="1 1.68"/>
<line x1="200.50" y1="269.50" x2="200.50" y2="443.90" stroke="#8e8e8e" stroke-width="1" stroke-dasharray="1 1.68"/>
<line x1="208.50" y1="269.50" x2="208.50" y2="443.90" stroke="#8e8e8e" stroke-width="1" stroke-dasharray="1 1.68"/>
<line x1="215.50" y1="269.50" x2="215.50" y2="443.90" stroke="#8e8e8e" stroke-width="1" stroke-dasharray="1 1.68"/>
<line x1="223.50" y1="269.50" x2="223.50" y2="443.90" stroke="#8e8e8e" stroke-width="1" stroke-dasharray="1 1.68"/>
<line x1="230.50" y1="269.50" x2="230.50" y2="443.90" stroke="#8e8e8e" stroke-width="1" stroke-dasharray="1 1.68"/>
<line x1="238.50" y1="269.50" x2="238.50" y2="443.90" stroke="#8e8e8e" stroke-width="1" stroke-dasharray="1 1.68"/>
<line x1="245.50" y1="269.50" x2="245.50" y2="443.90" stroke="#8e8e8e" stroke-width="1" stroke-dasharray="1 1.68"/>
<line x1="253.50" y1="269.50" x2="253.50" y2="443.90" stroke="#8e8e8e" stroke-width="1" stroke-dasharray="1 1.68"/>
<line x1="260.50" y1="269.50" x2="260.50" y2="443.90" stroke="#8e8e8e" stroke-width="1" stroke-dasharray="1 1.68"/>
<line x1="268.50" y1="269.50" x2="268.50" y2="443.90" stroke="#8e8e8e" stroke-width="1" stroke-dasharray="1 1.68"/>
<line x1="275.50" y1="269.50" x2="275.50" y2="443.90" stroke="#8e8e8e" stroke-width="1" stroke-dasharray="1 1.68"/>
<line x1="283.50" y1="269.50" x2="283.50" y2="443.90" stroke="#8e8e8e" stroke-width="1" stroke-dasharray="1 1.68"/>
<line x1="290.50" y1="269.50" x2="290.50" y2="443.90" stroke="#8e8e8e" stroke-width="1" stroke-dasharray="1 1.68"/>
<line x1="298.50" y1="269.50" x2="298.50" y2="443.90" stroke="#8e8e8e" stroke-width="1" stroke-dasharray="1 1.68"/>
<line x1="305.50" y1="269.50" x2="305.50" y2="443.90" stroke="#8e8e8e" stroke-width="1" stroke-dasharray="1 1.68"/>
<line x1="313.50" y1="269.50" x2="313.50" y2="443.90" stroke="#8e8e8e" stroke-width="1" stroke-dasharray="1 1.68"/>
<line x1="320.50" y1="269.50" x2="320.50" y2="443.90" stroke="#8e8e8e" stroke-width="1" stroke-dasharray="1 1.68"/>
<line x1="328.50" y1="269.50" x2="328.50" y2="443.90" stroke="#8e8e8e" stroke-width="1" stroke-dasharray="1 1.68"/>
<line x1="335.50" y1="269.50" x2="335.50" y2="443.90" stroke="#8e8e8e" stroke-width="1" stroke-dasharray="1 1.68"/>
<line x1="343.50" y1="269.50" x2="343.50" y2="443.90" stroke="#8e8e8e" stroke-width="1" stroke-dasharray="1 1.68"/>
<line x1="350.50" y1="269.50" x2="350.50" y2="443.90" stroke="#8e8e8e" stroke-width="1" stroke-dasharray="1 1.68"/>
<line x1="358.50" y1="269.50" x2="358.50" y2="443.90" stroke="#8e8e8e" stroke-width="1" stroke-dasharray="1 1.68"/>
<line x1="365.50" y1="269.50" x2="365.50" y2="443.90" stroke="#8e8e8e" stroke-width="1" stroke-dasharray="1 1.68"/>
<line x1="373.50" y1="269.50" x2="373.50" y2="443.90" stroke="#8e8e8e" stroke-width="1" stroke-dasharray="1 1.68"/>
<line x1="380.50" y1="269.50" x2="380.50" y2="443.90" stroke="#8e8e8e" stroke-width="1" stroke-dasharray="1 1.68"/>
<line x1="388.50" y1="269.50" x2="388.50" y2="443.90" stroke="#8e8e8e" stroke-width="1" stroke-dasharray="1 1.68"/>
<line x1="395.50" y1="269.50" x2="395.50" y2="443.90" stroke="#8e8e8e" stroke-width="1" stroke-dasharray="1 1.68"/>
<line x1="403.50" y1="269.50" x2="403.50" y2="443.90" stroke="#8e8e8e" stroke-width="1" stroke-dasharray="1 1.68"/>
<line x1="410.50" y1="269.50" x2="410.50" y2="443.90" stroke="#8e8e8e" stroke-width="1" stroke-dasharray="1 1.68"/>
<line x1="418.50" y1="269.50" x2="418.50" y2="443.90" stroke="#8e8e8e" stroke-width="1" stroke-dasharray="1 1.68"/>
<line x1="425.50" y1="269.50" x2="425.50" y2="443.90" stroke="#8e8e8e" stroke-width="1" stroke-dasharray="1 1.68"/>
<line x1="433.50" y1="269.50" x2="433.50" y2="443.90" stroke="#8e8e8e" stroke-width="1" stroke-dasharray="1 1.68"/>
<line x1="440.50" y1="269.50" x2="440.50" y2="443.90" stroke="#8e8e8e" stroke-width="1" stroke-dasharray="1 1.68"/>
<line x1="448.50" y1="269.50" x2="448.50" y2="443.90" stroke="#8e8e8e" stroke-width="1" stroke-dasharray="1 1.68"/>
<line x1="455.50" y1="269.50" x2="455.50" y2="443.90" stroke="#8e8e8e" stroke-width="1" stroke-dasharray="1 1.68"/>
<line x1="463.50" y1="269.50" x2="463.50" y2="443.90" stroke="#8e8e8e" stroke-width="1" stroke-dasharray="1 1.68"/>
<line x1="470.50" y1="269.50" x2="470.50" y2="443.90" stroke="#8e8e8e" stroke-width="1" stroke-dasharray="1 1.68"/>
<line x1="478.50" y1="269.50" x2="478.50" y2="443.90" stroke="#8e8e8e" stroke-width="1" stroke-dasharray="1 1.68"/>
<line x1="485.50" y1="269.50" x2="485.50" y2="443.90" stroke="#8e8e8e" stroke-width="1" stroke-dasharray="1 1.68"/>
<line x1="493.50" y1="269.50" x2="493.50" y2="443.90" stroke="#8e8e8e" stroke-width="1" stroke-dasharray="1 1.68"/>
<line x1="500.50" y1="269.50" x2="500.50" y2="443.90" stroke="#8e8e8e" stroke-width="1" stroke-dasharray="1 1.68"/>
<line x1="508.50" y1="269.50" x2="508.50" y2="443.90" stroke="#8e8e8e" stroke-width="1" stroke-dasharray="1 1.68"/>
<line x1="515.50" y1="269.50" x2="515.50" y2="443.90" stroke="#8e8e8e" stroke-width="1" stroke-dasharray="1 1.68"/>
<line x1="522.50" y1="269.50" x2="522.50" y2="443.90" stroke="#8e8e8e" stroke-width="1" stroke-dasharray="1 1.68"/>
<path d="M70.70,269.50 H66.10 V444.90 H523.59" fill="none" stroke="#262626" stroke-width="1.4"/>
<line x1="66.10" y1="444.90" x2="70.70" y2="444.90" stroke="#262626" stroke-width="1.2"/>
<text transform="translate(60.40,452.00) scale(1,1.08)" font-size="17.6" text-anchor="end" font-family="Liberation Serif, Times New Roman, serif" fill="#262626">1</text>
<line x1="66.10" y1="401.05" x2="70.70" y2="401.05" stroke="#262626" stroke-width="1.2"/>
<text transform="translate(60.40,408.15) scale(1,1.08)" font-size="17.6" text-anchor="end" font-family="Liberation Serif, Times New Roman, serif" fill="#262626">1.5</text>
<line x1="66.10" y1="357.20" x2="70.70" y2="357.20" stroke="#262626" stroke-width="1.2"/>
<text transform="translate(60.40,364.30) scale(1,1.08)" font-size="17.6" text-anchor="end" font-family="Liberation Serif, Times New Roman, serif" fill="#262626">2</text>
<line x1="66.10" y1="313.35" x2="70.70" y2="313.35" stroke="#262626" stroke-width="1.2"/>
<text transform="translate(60.40,320.45) scale(1,1.08)" font-size="17.6" text-anchor="end" font-family="Liberation Serif, Times New Roman, serif" fill="#262626">2.5</text>
<line x1="66.10" y1="269.50" x2="70.70" y2="269.50" stroke="#262626" stroke-width="1.2"/>
<text transform="translate(60.40,276.60) scale(1,1.08)" font-size="17.6" text-anchor="end" font-family="Liberation Serif, Times New Roman, serif" fill="#262626">3</text>
<line x1="141.00" y1="444.90" x2="141.00" y2="440.30" stroke="#262626" stroke-width="1.2"/>
<text transform="translate(141.00,467.40) scale(1,1.08)" font-size="17.6" text-anchor="middle" font-family="Liberation Serif, Times New Roman, serif" fill="#262626">10</text>
<line x1="215.90" y1="444.90" x2="215.90" y2="440.30" stroke="#262626" stroke-width="1.2"/>
<text transform="translate(215.90,467.40) scale(1,1.08)" font-size="17.6" text-anchor="middle" font-family="Liberation Serif, Times New Roman, serif" fill="#262626">20</text>
<line x1="290.80" y1="444.90" x2="290.80" y2="440.30" stroke="#262626" stroke-width="1.2"/>
<text transform="translate(290.80,467.40) scale(1,1.08)" font-size="17.6" text-anchor="middle" font-family="Liberation Serif, Times New Roman, serif" fill="#262626">30</text>
<line x1="365.70" y1="444.90" x2="365.70" y2="440.30" stroke="#262626" stroke-width="1.2"/>
<text transform="translate(365.70,467.40) scale(1,1.08)" font-size="17.6" text-anchor="middle" font-family="Liberation Serif, Times New Roman, serif" fill="#262626">40</text>
<line x1="440.60" y1="444.90" x2="440.60" y2="440.30" stroke="#262626" stroke-width="1.2"/>
<text transform="translate(440.60,467.40) scale(1,1.08)" font-size="17.6" text-anchor="middle" font-family="Liberation Serif, Times New Roman, serif" fill="#262626">50</text>
<line x1="515.50" y1="444.90" x2="515.50" y2="440.30" stroke="#262626" stroke-width="1.2"/>
<text transform="translate(515.50,467.40) scale(1,1.08)" font-size="17.6" text-anchor="middle" font-family="Liberation Serif, Times New Roman, serif" fill="#262626">60</text>
<text x="273.3" y="265.80" font-size="16.2" font-family="Liberation Serif, Times New Roman, serif" fill="#000">D=4</text>
<text x="3" y="278.00" font-size="17" font-family="Liberation Serif, Times New Roman, serif" fill="#000">(b)</text>
<text x="32.6" y="356.70" font-size="17.6" text-anchor="middle" transform="rotate(-90 32.6 356.70)" font-family="Liberation Serif, Times New Roman, serif" fill="#262626">PME</text>
<text x="294.5" y="488.3" font-size="19" text-anchor="middle" font-family="Liberation Serif, Times New Roman, serif" fill="#262626">Subjects</text>
</svg></body></html>
